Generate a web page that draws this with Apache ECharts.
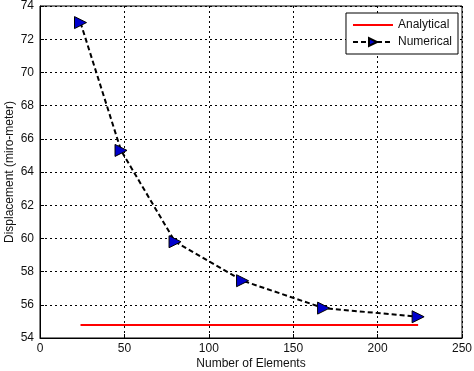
<!DOCTYPE html>
<html>
<head>
<meta charset="utf-8">
<script src="https://cdn.jsdelivr.net/npm/echarts@6/dist/echarts.min.js"></script>
<style>html,body{margin:0;padding:0;background:#fff}#c{width:474px;height:371px}</style>
</head>
<body>
<div id="c"></div>
<script>
const numElements = [24, 48, 80, 120, 168, 224];
const numerical = [73.0, 65.3, 59.8, 57.45, 55.8, 55.28];
const analyticalX = [24, 224];
const analyticalValue = [54.78, 54.78];
const xTicks = [0, 50, 100, 150, 200, 250];
const yTicks = [54, 56, 58, 60, 62, 64, 66, 68, 70, 72, 74];

const chart = echarts.init(document.getElementById('c'));
const font = 'Liberation Sans, Arial, sans-serif';
chart.setOption({
  animation: false,
  backgroundColor: '#fff',
  textStyle: { fontFamily: font },
  grid: { left: 40, right: 12, top: 6, bottom: 33, show: true, borderColor: '#000', borderWidth: 1,
          containLabel: false, outerBoundsMode: 'none' },
  legend: {
    orient: 'vertical', right: 16, top: 13,
    backgroundColor: '#fff', borderColor: '#000', borderWidth: 1,
    padding: [6, 6, 6, 6], itemGap: 5, itemWidth: 40, itemHeight: 10,
    textStyle: { fontSize: 12, color: '#111', fontFamily: font },
    data: [
      { name: 'Analytical', icon: 'path://M0,6 L40,6 L40,8 L0,8 Z' },
      { name: 'Numerical' }
    ]
  },
  xAxis: {
    type: 'value', min: xTicks[0], max: xTicks[xTicks.length - 1], interval: 50,
    name: 'Number of Elements', nameLocation: 'middle', nameGap: 20, nameMoveOverlap: false,
    nameTextStyle: { fontSize: 12, color: '#111', fontFamily: font },
    axisLine: { show: true, lineStyle: { color: '#000' } },
    axisTick: { show: true, inside: true, length: 4, lineStyle: { color: '#000' } },
    axisLabel: { fontSize: 12, color: '#111', margin: 5, fontFamily: font },
    splitLine: { show: true, lineStyle: { color: '#000', type: [2, 3], width: 1 } }
  },
  yAxis: {
    type: 'value', min: yTicks[0], max: yTicks[yTicks.length - 1], interval: 2,
    name: 'Displacement (miro-meter)', nameLocation: 'middle', nameGap: 24, nameRotate: 90,
    nameMoveOverlap: false,
    nameTextStyle: { fontSize: 12, color: '#111', fontFamily: font },
    axisLine: { show: true, lineStyle: { color: '#000' } },
    axisTick: { show: true, inside: true, length: 4, lineStyle: { color: '#000' } },
    axisLabel: { fontSize: 12, color: '#111', margin: 6, fontFamily: font },
    splitLine: { show: true, lineStyle: { color: '#000', type: [2, 3], width: 1 } }
  },
  series: [
    {
      name: 'Analytical', type: 'line',
      data: analyticalX.map((x, i) => [x, analyticalValue[i]]),
      symbol: 'none',
      lineStyle: { color: '#ff0000', width: 2 },
      itemStyle: { color: '#ff0000' }
    },
    {
      name: 'Numerical', type: 'line',
      data: numElements.map((x, i) => [x, numerical[i]]),
      symbol: 'triangle', symbolRotate: -90, symbolSize: 12,
      lineStyle: { color: '#000', width: 2, type: [5, 3] },
      itemStyle: { color: '#0000cc', borderColor: '#000', borderWidth: 1 }
    }
  ]
});
</script>
</body>
</html>
